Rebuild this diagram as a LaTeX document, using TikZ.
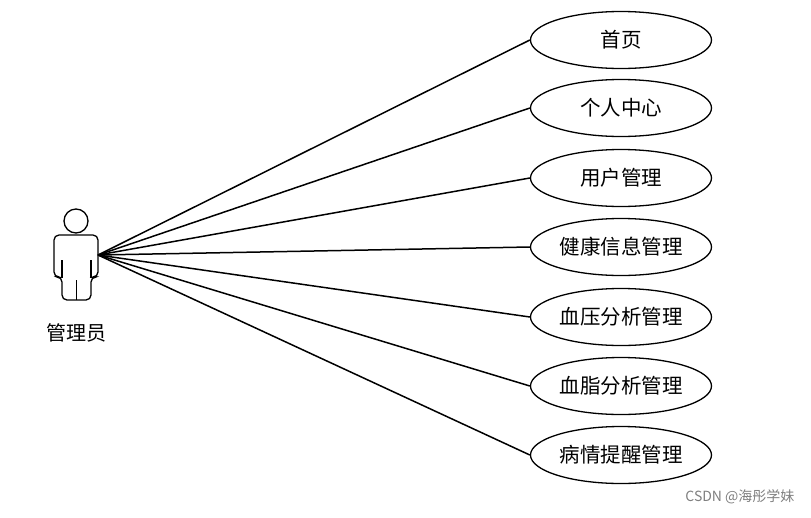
\documentclass[tikz,border=0pt]{standalone}
\usetikzlibrary{shapes.geometric}
\usepackage{fontspec}
\newfontfamily\cjk{Noto Sans CJK SC}
\begin{document}
\begin{tikzpicture}[x=1pt,y=-1pt,
  uc/.style={draw,line width=1.3pt,ellipse,minimum width=181pt,minimum height=57pt,inner sep=0pt,font=\cjk\fontsize{20.5}{22}\selectfont},
  link/.style={line width=1.5pt}]
\useasboundingbox (0,0) rectangle (811,517);
\fill[white] (0,0) rectangle (811,517);
% actor
\draw[line width=1.3pt] (76,221) circle (12);
\draw[line width=1.3pt,rounded corners=5pt] (62,300) -- (62,277) -- (54,277) -- (54,235) -- (98,235) -- (98,277) -- (91,277) -- (91,300) -- cycle;
\draw[line width=1.3pt] (62,260) -- (62,278) (91,260) -- (91,278) (76.5,280) -- (76.5,300);
\coordinate (a) at (98,255);
\node[font=\cjk\fontsize{20}{22}\selectfont] (lbl) at (76,333) {管理员};
\foreach \n/\y/\t in {1/40/首页,2/108/个人中心,3/178/用户管理,4/247/健康信息管理,5/317/血压分析管理,6/386/血脂分析管理,7/455/病情提醒管理}{
  \node[uc] (u\n) at (621,\y) {\t};
  \draw[link] (a) -- (u\n.west);
}
\node[font=\cjk\fontsize{14}{15}\selectfont,text=gray,anchor=east] (wm) at (798,497) {CSDN @海彤学妹};
\end{tikzpicture}
\end{document}
